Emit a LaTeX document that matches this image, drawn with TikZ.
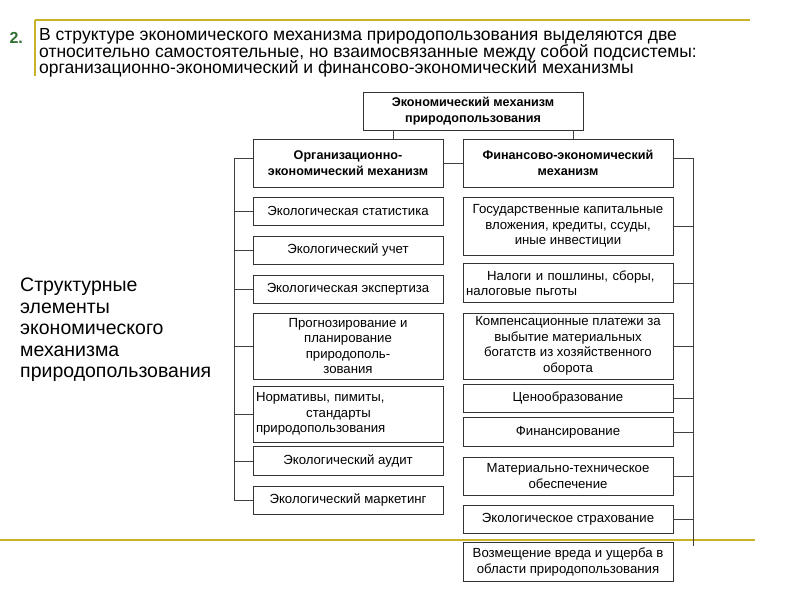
\documentclass[tikz,border=0pt]{standalone}
\usepackage{fontspec}
\setmainfont{Liberation Sans}
\definecolor{gold}{RGB}{200,178,40}
\definecolor{numg}{RGB}{50,110,50}
\begin{document}
\begin{tikzpicture}[x=1pt,y=-1pt,
  bx/.style={draw=black!80,line width=0.8pt,inner sep=1pt,align=center,font=\fontsize{13.2}{15.5}\selectfont},
  hb/.style={bx,font=\fontsize{12.6}{15.5}\selectfont\bfseries},
  ln/.style={draw=black!75,line width=0.8pt}]
\useasboundingbox (0,0) rectangle (800,600);
\draw[gold,line width=1.5pt] (35,20) -- (750,20);
\draw[gold,line width=1.2pt] (35,20) -- (35,76);
\draw[gold,line width=1.5pt] (0,540) -- (755,540);
\node[anchor=west,text=numg,font=\fontsize{16}{18}\selectfont\bfseries] (num) at (6,38) {2.};
\node[anchor=north west,align=left,inner sep=0,font=\fontsize{17.5}{16.8}\selectfont] (title) at (39,28) {В структуре экономического механизма природопользования выделяются две\\относительно самостоятельные, но взаимосвязанные между собой подсистемы:\\организационно-экономический и финансово-экономический механизмы};
\node[anchor=west,align=left,inner sep=0,font=\fontsize{19.5}{21.5}\selectfont] (side) at (20,330) {Структурные\\элементы\\экономического\\механизма\\природопользования};
% top
\node[hb,minimum width=220,minimum height=38] (top) at (473,111) {Экономический механизм\\природопользования};
\node[hb,minimum width=190,minimum height=48] (L) at (348,163) {Организационно-\\экономический механизм};
\node[hb,minimum width=210,minimum height=48] (R) at (568,163) {Финансово-экономический\\механизм};
\draw[ln] (393,130) -- (393,139);
\draw[ln] (573,130) -- (573,139);
\draw[ln] (L.east) -- (R.west);
% left items
\node[bx,minimum width=190,minimum height=28] (l1) at (348,211) {Экологическая статистика};
\node[bx,minimum width=190,minimum height=28] (l2) at (348,250) {Экологический учет};
\node[bx,minimum width=190,minimum height=28] (l3) at (348,289) {Экологическая экспертиза};
\node[bx,minimum width=190,minimum height=66] (l4) at (348,346) {Прогнозирование и\\планирование\\природополь-\\зования};
\node[bx,minimum width=190,minimum height=56,text width=184,align=left] (l5) at (348,414) {Нормативы, пимиты,\\\hspace*{3.8em}стандарты\\природопользования};
\node[bx,minimum width=190,minimum height=29] (l6) at (348,461) {Экологический аудит};
\node[bx,minimum width=190,minimum height=28] (l7) at (348,500) {Экологический маркетинг};
\coordinate (lb0) at (234,158);
\coordinate (lb1) at (234,500);
\draw[ln] (lb0) -- (lb1);
\draw[ln] (lb0) -- (L.west|-lb0);
\foreach \n in {l1,l2,l3,l4,l5,l6,l7} \draw[ln] (\n.west) -- (\n.west-|lb0);
% right items
\node[bx,minimum width=210,minimum height=58] (r1) at (568,226) {Государственные капитальные\\вложения, кредиты, ссуды,\\иные инвестиции};
\node[bx,minimum width=210,minimum height=39,text width=204,align=left] (r2) at (568,283) {\hspace*{1.6em}Налоги и пошлины, сборы,\\налоговые пьготы};
\node[bx,minimum width=210,minimum height=66] (r3) at (568,346) {Компенсационные платежи за\\выбытие материальных\\богатств из хозяйственного\\оборота};
\node[bx,minimum width=210,minimum height=28] (r4) at (568,398) {Ценообразование};
\node[bx,minimum width=210,minimum height=29] (r5) at (568,432) {Финансирование};
\node[bx,minimum width=210,minimum height=38] (r6) at (568,476) {Материально-техническое\\обеспечение};
\node[bx,minimum width=210,minimum height=28] (r7) at (568,519) {Экологическое страхование};
\node[bx,minimum width=210,minimum height=39] (r8) at (568,562) {Возмещение вреда и ущерба в\\области природопользования};
\coordinate (rb0) at (693,158);
\coordinate (rb1) at (693,546);
\draw[ln] (rb0) -- (rb1);
\draw[ln] (rb0) -- (R.east|-rb0);
\foreach \n in {r1,r2,r3,r4,r5,r6,r7} \draw[ln] (\n.east) -- (\n.east-|rb0);
\end{tikzpicture}
\end{document}
